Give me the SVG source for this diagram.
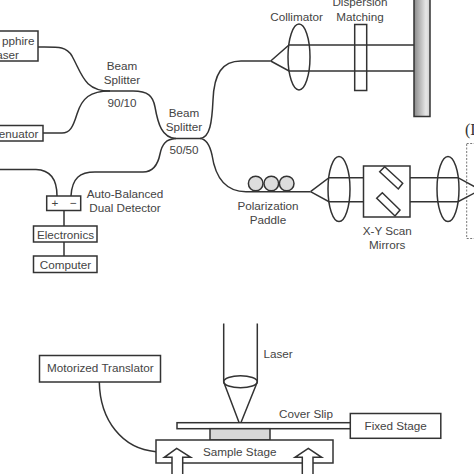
<svg xmlns="http://www.w3.org/2000/svg" width="474" height="474" viewBox="0 0 474 474">
<style>
text{font-family:"Liberation Sans",Arial,sans-serif;font-size:11.7px;fill:#444;text-anchor:middle}
.e{text-anchor:end}
.l{fill:none;stroke:#333;stroke-width:1.5}
.b{fill:#fff;stroke:#333;stroke-width:1.5}
.p{fill:#ddd;stroke:#333;stroke-width:1.5}
</style>
<defs>
<linearGradient id="g" x1="0" x2="1" y1="0" y2="0"><stop offset="0" stop-color="#8a8a8a"/><stop offset="0.75" stop-color="#e6e6e6"/><stop offset="1" stop-color="#d0d0d0"/></linearGradient>
</defs>
<g id="sapphire-laser"><rect class="b" x="-10" y="31" width="48" height="30"/><text class="e" x="34.500" y="44.500">pphire</text><text class="e" x="19" y="58.500">aser</text></g>
<g id="attenuator"><rect class="b" x="-20" y="125.500" width="63" height="15.500"/><text class="e" x="38.500" y="138">enuator</text></g>
<g id="splitter-90-10"><text x="122" y="69.500">Beam</text><text x="122" y="83.500">Splitter</text><text x="122" y="107">90/10</text></g>
<g id="splitter-50-50"><text x="184" y="117">Beam</text><text x="184" y="131">Splitter</text><text x="184" y="154">50/50</text></g>
<g id="detector"><rect class="b" x="46.700" y="196" width="34" height="14.500"/><text x="55" y="207">+</text><text x="73.500" y="207">−</text><text x="125" y="198">Auto-Balanced</text><text x="125" y="212">Dual Detector</text></g>
<g id="electronics"><rect class="b" x="33.500" y="226" width="63.500" height="16"/><text x="65.500" y="239">Electronics</text></g>
<g id="computer"><rect class="b" x="33.500" y="256" width="63.500" height="16.500"/><text x="65.500" y="269">Computer</text></g>
<g id="collimator"><ellipse class="l" cx="299" cy="57" rx="11" ry="33"/><text x="296.500" y="21">Collimator</text></g>
<g id="dispersion"><rect class="l" x="354.700" y="24.500" width="12" height="66"/><text x="360" y="6">Dispersion</text><text x="360" y="21">Matching</text></g>
<g id="mirror"><rect x="414" y="-5" width="16" height="121.500" fill="url(#g)" stroke="#333" stroke-width="1.500"/></g>
<g id="paddle"><circle class="p" cx="255.700" cy="183.500" r="7.300"/><circle class="p" cx="271.300" cy="183.500" r="7.300"/><circle class="p" cx="286.700" cy="183.500" r="7.300"/><text x="268" y="209.500">Polarization</text><text x="268" y="223.500">Paddle</text></g>
<g id="lens-left"><ellipse class="l" cx="339" cy="189" rx="11" ry="32.500"/></g>
<g id="scan-mirrors"><rect class="b" x="363.500" y="166" width="46.500" height="51"/><path class="b" d="M384.700 166.700L402.700 183.300L398.300 189L379.700 171.700Z"/><path class="b" d="M382.300 192.700L400 210L395 216L376.700 198.300Z"/><text x="387.300" y="234.500">X-Y Scan</text><text x="387.300" y="249">Mirrors</text></g>
<g id="lens-right"><ellipse class="l" cx="448" cy="189" rx="11" ry="32.500"/></g>
<g id="panel-label"><text x="465" y="135" style="font-family:'Liberation Serif',serif;font-size:16px;text-anchor:start;fill:#333">(I</text></g>
<rect id="dashed-panel" x="466.700" y="143.500" width="20" height="95" fill="none" stroke="#777" stroke-dasharray="2 1.500"/>
<g id="motorized-translator"><rect class="b" x="39.500" y="355.500" width="121" height="26.500"/><text x="100.300" y="372">Motorized Translator</text></g>
<g id="laser"><path class="l" d="M223.700 323.500V382M257.300 323.500V382M223.700 382L240 425L257.300 382"/><ellipse class="l" cx="240.500" cy="381.700" rx="16.800" ry="6"/><text x="278" y="358">Laser</text></g>
<g id="cover-slip"><rect class="b" x="177" y="422.700" width="175" height="6"/><rect x="210" y="428.700" width="60" height="11.300" fill="#d8d8d8" stroke="#333" stroke-width="1.500"/><text x="306" y="417.500">Cover Slip</text></g>
<g id="fixed-stage"><rect class="b" x="350.300" y="413.500" width="90.500" height="24.800"/><text x="395.700" y="429.700">Fixed Stage</text></g>
<g id="sample-stage"><rect class="b" x="156" y="440" width="177" height="23"/><text x="239.700" y="455.700">Sample Stage</text>
<path class="b" d="M172 475V457.300H164.300L176.700 448.300L190.700 457.300H182.700V475Z"/>
<path class="b" d="M302.300 475V457.300H295L308.300 448.300L321.700 457.300H313V475Z"/></g>
<g id="connectors" class="l">
<path d="M38 47C58 47 66 46 72 56C82 74 84 91 110 91H133C148 91 153 96 155 107C158 124 162 138 176 138.500H200C210 138 212 122 213 100C214 74 222 61 241 61H270.700"/>
<path d="M43 133H62C70 133 73 127 77 114C82 98 90 91 110 91"/>
<path d="M0 169.500H36C50 170 57 178 57 196"/>
<path d="M71 196C72 178 80 172 95 172H143C154 172 158 164 160 154C162 144 166 139 176 138.500M200 138.500C207 139 210 146 212 155C215 175 224 191.700 246 191.700H310.500"/>
<path d="M64 210.500V226M64 242V256"/>
<path d="M270.700 61L289 45H414M270.700 61L289 71H414"/>
<path d="M310.500 191.700L329 177.700H363.500M310.500 191.700L329 201.700H363.500"/>
<path d="M410 177.700H458L475 187M410 201.700H458L475 192.700"/>
<path d="M99.300 382C100 420 122 449 156 451.700"/>
</g>
</svg>
